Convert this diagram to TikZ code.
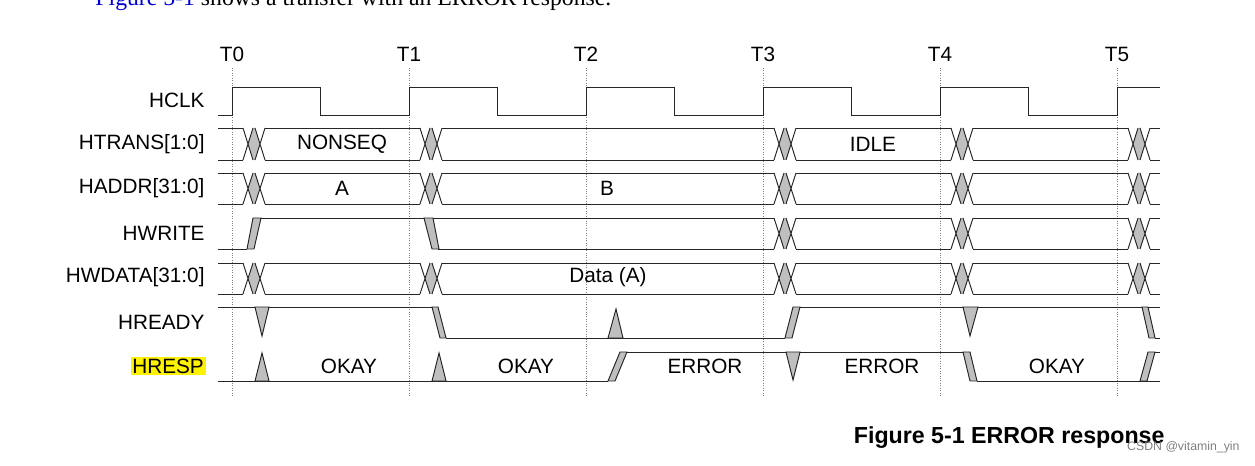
\documentclass[tikz,border=0pt]{standalone}
\usepackage{fontspec}
\setmainfont{Liberation Sans}
\newfontfamily\serifx{Liberation Serif}
\begin{document}
\begin{tikzpicture}[x=0.2mm,y=-0.2mm,line width=0.55pt,
  wave/.style={draw=black!85},
  band/.style={fill=gray!50,draw=black!85},
  lbl/.style={anchor=east,font=\fontsize{11.8}{13}\selectfont,inner sep=0pt},
  val/.style={font=\fontsize{11.8}{13}\selectfont,inner sep=0pt},
  grid/.style={densely dotted,gray,line width=0.4pt}]
\useasboundingbox (0,0) rectangle (1255,466);
\newcommand\busx[3]{%
 \fill[gray!50] (#1+16,{(#2+#3)/2})--(#1+21,#2)--(#1+23,#2)--(#1+28,{(#2+#3)/2})--(#1+23,#3)--(#1+21,#3)--cycle;
 \draw[wave] (#1+11,#2)--(#1+21,#3) (#1+11,#3)--(#1+21,#2) (#1+23,#2)--(#1+33,#3) (#1+23,#3)--(#1+33,#2);}
\newcommand\busrow[2]{%
 \foreach \a/\b in {218/243,265/420,442/774,796/951,973/1128,1150/1160}{\draw[wave] (\a,#1)--(\b,#1) (\a,#2)--(\b,#2);}
 \foreach \t in {232,409,763,940,1117}{\busx{\t}{#1}{#2}}}
% grid
\foreach \t/\n in {232/0,409/1,586/2,763/3,940/4,1117/5}{
  \draw[grid] (\t,68)--(\t,396);
  \node[val] (t\n) at (\t,54) {T\n};}
% top text
\node[anchor=west,inner sep=0pt,font=\serifx\fontsize{13.5}{15}\selectfont] (intro) at (95,0) {\textcolor{blue!80!black}{Figure 5-1} shows a transfer with an ERROR response.};
% labels
\node[lbl] (lclk) at (205,100) {HCLK};
\node[lbl] (ltr) at (205,144) {HTRANS[1:0]};
\node[lbl] (lad) at (205,188) {HADDR[31:0]};
\node[lbl] (lwr) at (205,233) {HWRITE};
\node[lbl] (lwd) at (205,277) {HWDATA[31:0]};
\node[lbl] (lrdy) at (205,322) {HREADY};
\node[lbl,fill=yellow,inner sep=1pt] (lresp) at (206,366) {HRESP};
% clock
\draw[wave] (218,115)--(232,115) \foreach \t in {232,409,586,763,940}{--(\t,115)--(\t,87)--(\t+88.5,87)--(\t+88.5,115)} --(1117,115)--(1117,87)--(1160,87);
% buses
\busrow{128}{160}
\busrow{173}{204}
\busrow{263}{294}
% HWRITE
\draw[wave] (218,249)--(247,249) (253,218)--(774,218) (438,249)--(774,249);
\draw[band] (247,249)--(254,249)--(261,218)--(253,218)--cycle;
\draw[band] (424,218)--(433,218)--(439,249)--(432,249)--cycle;
\foreach \a/\b in {796/951,973/1128,1150/1160}{\draw[wave] (\a,218)--(\b,218) (\a,249)--(\b,249);}
\foreach \t in {763,940,1117}{\busx{\t}{218}{249}}
% HREADY
\draw[wave] (218,307)--(438,307) (446,338)--(785,338) (800,307)--(1160,307) (1155,338)--(1160,338);
\draw[band] (255,307)--(269,307)--(262,336)--cycle;
\draw[band] (432,307)--(438,307)--(446,338)--(440,338)--cycle;
\draw[band] (608,338)--(623,338)--(616,309)--cycle;
\draw[band] (785,338)--(792,338)--(800,307)--(793,307)--cycle;
\draw[band] (963,307)--(978,307)--(970,336)--cycle;
\draw[band] (1142,307)--(1148,307)--(1155,338)--(1149,338)--cycle;
% HRESP
\draw[wave] (218,381)--(608,381) (627,352)--(963,352) (977,381)--(1160,381) (1155,352)--(1160,352);
\draw[band] (255,381)--(269,381)--(262,353)--cycle;
\draw[band] (432,381)--(446,381)--(439,353)--cycle;
\draw[band] (608,381)--(615,381)--(627,352)--(620,352)--cycle;
\draw[band] (786,352)--(800,352)--(793,380)--cycle;
\draw[band] (963,352)--(970,352)--(977,381)--(970,381)--cycle;
\draw[band] (1140,381)--(1147,381)--(1155,352)--(1148,352)--cycle;
% values
\node[val] (vns) at (342,144) {NONSEQ};
\node[val] (vidle) at (873,144) {IDLE};
\node[val] (va) at (342,188) {A};
\node[val] (vb) at (607,188) {B};
\node[val] (vd) at (608,277) {Data (A)};
\node[val] (o1) at (349,366) {OKAY};
\node[val] (o2) at (526,366) {OKAY};
\node[val] (e1) at (705,366) {ERROR};
\node[val] (e2) at (882,366) {ERROR};
\node[val] (o3) at (1057,366) {OKAY};
% caption
\node[anchor=east,inner sep=0pt,font=\bfseries\fontsize{13.2}{15}\selectfont] (cap) at (1165,438) {Figure 5-1 ERROR response};
\node[anchor=east,inner sep=0pt,text=gray,font=\fontsize{7}{8}\selectfont] (wm) at (1240,447) {CSDN @vitamin\_yin};
\end{tikzpicture}
\end{document}
